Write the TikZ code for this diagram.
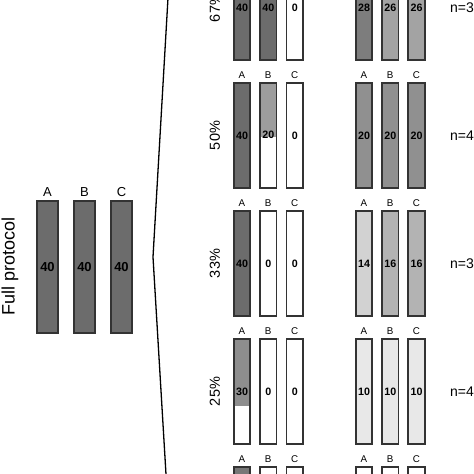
\documentclass[tikz,border=0pt]{standalone}
\usepackage{fontspec}
\setmainfont{Liberation Sans}
\definecolor{cforty}{HTML}{6C6C6C}
\definecolor{ctwentyeight}{HTML}{7D7D7D}
\definecolor{ctwentysix}{HTML}{A3A3A3}
\definecolor{ctwentyB}{HTML}{9D9D9D}
\definecolor{ctwenty}{HTML}{909090}
\definecolor{cthirty}{HTML}{8E8E8E}
\definecolor{cfourteen}{HTML}{D2D2D2}
\definecolor{csixteen}{HTML}{B3B3B3}
\definecolor{cten}{HTML}{E8E8E8}
\definecolor{cbottom}{HTML}{777777}
\definecolor{edge}{HTML}{333333}
\newcommand\mybar[6]{%
  \fill[#5] (#1,#3) rectangle (#2,#6);
  \draw[barline] (#1,#3) rectangle (#2,#4);
}
\begin{document}
\begin{tikzpicture}[x=1pt,y=-1pt,
  barline/.style={draw=edge, line width=1.2pt},
  letter/.style={font=\fontsize{9.8}{11}\selectfont, inner sep=0pt},
  bigletter/.style={font=\fontsize{13}{15}\selectfont, inner sep=0pt},
  num/.style={font=\bfseries\fontsize{10.7}{12}\selectfont, inner sep=0pt},
  bignum/.style={font=\bfseries\fontsize{13}{15}\selectfont, inner sep=0pt},
  pct/.style={font=\fontsize{14.5}{16}\selectfont, rotate=90, inner sep=0pt},
  nlab/.style={font=\fontsize{14}{16}\selectfont, anchor=west, inner sep=0pt},
  title/.style={font=\fontsize{18}{20}\selectfont, rotate=90, inner sep=0pt}]
\useasboundingbox (0,0) rectangle (474,474);
\fill[white] (0,0) rectangle (474,474);
\clip (0,0) rectangle (474,474);

% Full protocol
\node[title] (full) at (10,266) {Full protocol};
\mybar{37}{58}{201}{333}{cforty}{333}
\mybar{74}{95}{201}{333}{cforty}{333}
\mybar{111}{132}{201}{333}{cforty}{333}
\node[bigletter] (fA) at (47.5,192) {A};
\node[bigletter] (fB) at (84.5,192) {B};
\node[bigletter] (fC) at (121.5,192) {C};
\node[bignum] (fn1) at (47.5,267) {40};
\node[bignum] (fn2) at (84.5,267) {40};
\node[bignum] (fn3) at (121.5,267) {40};

% bracket
\coordinate (top) at (168,-2);
\coordinate (apex) at (153,257);
\coordinate (bot) at (166.1,476);
\draw[line width=1.3pt, line join=miter] (top) -- (apex) -- (bot);

% Row 67% (top=-45)
\node[pct] (p67) at (215,7.5) {67\%};
\mybar{234}{250}{-45}{60}{cforty}{60}
\mybar{260}{276.5}{-45}{60}{cforty}{60}
\mybar{286.5}{303}{-45}{60}{white}{60}
\node[num] at (242,7.5) {40};
\node[num] at (268.25,7.5) {40};
\node[num] at (294.75,7.5) {0};
\mybar{356}{372}{-45}{60}{ctwentyeight}{60}
\mybar{382}{398.5}{-45}{60}{ctwentysix}{60}
\mybar{408}{425}{-45}{60}{ctwentysix}{60}
\node[num] at (364,7.5) {28};
\node[num] at (390.25,7.5) {26};
\node[num] at (416.5,7.5) {26};
\node[nlab] (n67) at (450,7.5) {n=3};

% Row 50% (top=83)
\node[letter] at (242,75.5) {A};
\node[letter] at (268.25,75.5) {B};
\node[letter] at (294.75,75.5) {C};
\node[letter] at (364,75.5) {A};
\node[letter] at (390.25,75.5) {B};
\node[letter] at (416.5,75.5) {C};
\node[pct] (p50) at (215,135.5) {50\%};
\mybar{234}{250}{83}{188}{cforty}{188}
\mybar{260}{276.5}{83}{188}{ctwentyB}{137}
\mybar{286.5}{303}{83}{188}{white}{188}
\node[num] at (242,135.5) {40};
\node[num] at (268.25,134.5) {20};
\node[num] at (294.75,135.5) {0};
\mybar{356}{372}{83}{188}{ctwenty}{188}
\mybar{382}{398.5}{83}{188}{ctwenty}{188}
\mybar{408}{425}{83}{188}{ctwenty}{188}
\node[num] at (364,135.5) {20};
\node[num] at (390.25,135.5) {20};
\node[num] at (416.5,135.5) {20};
\node[nlab] (n50) at (450,135.5) {n=4};

% Row 33% (top=211)
\node[letter] at (242,203.5) {A};
\node[letter] at (268.25,203.5) {B};
\node[letter] at (294.75,203.5) {C};
\node[letter] at (364,203.5) {A};
\node[letter] at (390.25,203.5) {B};
\node[letter] at (416.5,203.5) {C};
\node[pct] (p33) at (215,263.5) {33\%};
\mybar{234}{250}{211}{316}{cforty}{316}
\mybar{260}{276.5}{211}{316}{white}{316}
\mybar{286.5}{303}{211}{316}{white}{316}
\node[num] at (242,263.5) {40};
\node[num] at (268.25,263.5) {0};
\node[num] at (294.75,263.5) {0};
\mybar{356}{372}{211}{316}{cfourteen}{316}
\mybar{382}{398.5}{211}{316}{csixteen}{316}
\mybar{408}{425}{211}{316}{csixteen}{316}
\node[num] at (364,263.5) {14};
\node[num] at (390.25,263.5) {16};
\node[num] at (416.5,263.5) {16};
\node[nlab] (n33) at (450,263.5) {n=3};

% Row 25% (top=339)
\node[letter] at (242,331.5) {A};
\node[letter] at (268.25,331.5) {B};
\node[letter] at (294.75,331.5) {C};
\node[letter] at (364,331.5) {A};
\node[letter] at (390.25,331.5) {B};
\node[letter] at (416.5,331.5) {C};
\node[pct] (p25) at (215,391.5) {25\%};
\mybar{234}{250}{339}{444}{cthirty}{406}
\mybar{260}{276.5}{339}{444}{white}{444}
\mybar{286.5}{303}{339}{444}{white}{444}
\node[num] at (242,391.5) {30};
\node[num] at (268.25,391.5) {0};
\node[num] at (294.75,391.5) {0};
\mybar{356}{372}{339}{444}{cten}{444}
\mybar{382}{398.5}{339}{444}{cten}{444}
\mybar{408}{425}{339}{444}{cten}{444}
\node[num] at (364,391.5) {10};
\node[num] at (390.25,391.5) {10};
\node[num] at (416.5,391.5) {10};
\node[nlab] (n25) at (450,391.5) {n=4};

% Bottom row (top=467)
\node[letter] at (242,459.5) {A};
\node[letter] at (268.25,459.5) {B};
\node[letter] at (294.75,459.5) {C};
\node[letter] at (364,459.5) {A};
\node[letter] at (390.25,459.5) {B};
\node[letter] at (416.5,459.5) {C};
\mybar{234}{250}{467}{572}{cbottom}{572}
\mybar{260}{276.5}{467}{572}{white}{572}
\mybar{286.5}{303}{467}{572}{white}{572}
\mybar{356}{372}{467}{572}{white}{572}
\mybar{382}{398.5}{467}{572}{white}{572}
\mybar{408}{425}{467}{572}{white}{572}
\end{tikzpicture}
\end{document}
